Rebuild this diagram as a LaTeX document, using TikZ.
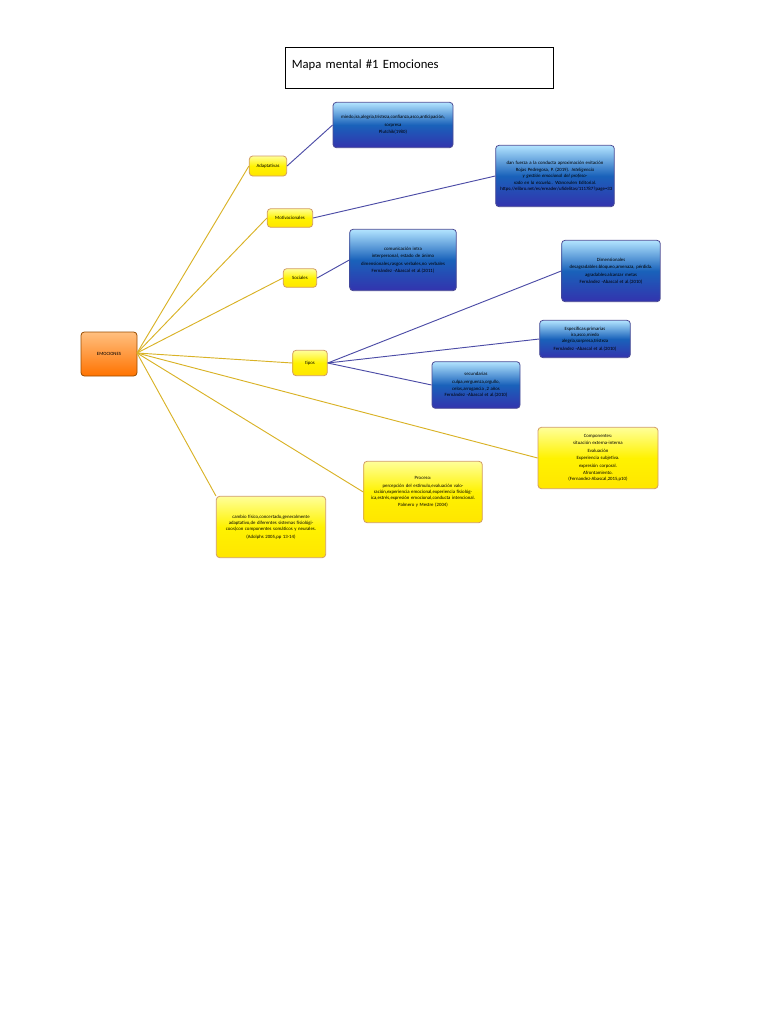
\documentclass[tikz,border=0pt]{standalone}
\usepackage{fontspec}
\setmainfont{Carlito}
\begin{document}
\begin{tikzpicture}[x=0.75pt,y=-0.75pt,
 base/.style={rounded corners=2.5pt,draw=#1,line width=0.6pt,align=center,inner sep=1pt,font=\fontsize{3.6}{4.6}\selectfont},
 bluebox/.style={base=blue!40!black!70,top color=blue!35!cyan!30!white,bottom color=blue!60!black!80,middle color=blue!55!cyan!70!black!90,text=black},
 ybox/.style={base=orange!70!black!60,top color=yellow!40,bottom color=yellow!80!orange,middle color=yellow!90!orange,text=black},
 obox/.style={base=orange!60!black,top color=orange!50,bottom color=orange!90!red,text=black},
 yl/.style={draw=brown!60!yellow,line width=0.7pt},
 bl/.style={draw=blue!50!black!70,line width=0.7pt}]
\useasboundingbox (0,0) rectangle (768,1024);
\node[draw=black,line width=0.5pt,minimum width=268*0.75pt,minimum height=41*0.75pt,text width=255*0.75pt,align=left,anchor=north west,inner sep=0pt,font=\fontsize{9.5}{11}\selectfont] (title) at (285,47) {\raisebox{6pt}{Mapa mental \#1 Emociones}};
\node[obox,minimum width=42pt,minimum height=33pt] (emo) at (109,354) {EMOCIONES};
\node[ybox,minimum width=28pt,minimum height=15pt] (ada) at (268,166) {Adaptativas};
\node[ybox,minimum width=34pt,minimum height=14pt] (mot) at (290,218) {Motivacionales};
\node[ybox,minimum width=25pt,minimum height=14pt] (soc) at (300,278) {Sociales};
\node[ybox,minimum width=26pt,minimum height=19pt] (tip) at (310,363) {tipos};
\node[bluebox,minimum width=90pt,minimum height=34pt,text width=88pt] (b1) at (393,125) {miedo,ira,alegria,tristeza,confianza,asco,anticipación,\\[1pt]sorpresa\\[1pt]Plutchik(1980)};
\node[bluebox,minimum width=89pt,minimum height=46pt,text width=82pt] (b2) at (555,176) {dan fuerza a la conducta aproximación evitación\\[1pt]Rojas Pedregosa, P. (2019). \textit{Inteligencia y gestión emocional del profesorado en la escuela.}. Wanceulen Editorial. https://elibro.net/es/ereader/ufidelitas/111787?page=33};
\node[bluebox,minimum width=80pt,minimum height=46pt,text width=76pt] (b3) at (403,260) {comunicación intra\\[1pt]interpersonal, estado de ánimo\\[1pt]dimensionales,rasgos verbales,no verbales\\[1pt]Fernández -Abascal et al.(2011)\\[5pt]};
\node[bluebox,minimum width=74pt,minimum height=46pt,text width=72pt] (b4) at (611,271) {Dimensionales\\[1pt]desagradables:bloqueo,amenaza, pérdida.\\[1pt]agradables:alcanzar metas\\[1pt]Fernández -Abascal et al.(2010)};
\node[bluebox,minimum width=67pt,minimum height=28pt,text width=66pt] (b5) at (585,339) {Especificas:primarias\\ira,asco,miedo\\alegria,sorpresa,tristeza\\[1pt]Fernández -Abascal et al.(2010)};
\node[bluebox,minimum width=66pt,minimum height=35pt,text width=64pt] (b6) at (476,385) {secundarias\\[1pt]culpa,verguenza,orgullo,\\[1pt]celos,arrogancia ,2 años\\Fernández -Abascal et al.(2010)};
\node[ybox,minimum width=90pt,minimum height=46pt,text width=85pt] (c1) at (598,458) {Componentes:\\[1pt]situación externa-interna\\[1pt]Evaluación\\[1pt]Experiencia subjetiva.\\[1pt]expresión corporal.\\[1pt]Afrontamiento.\\(Fernandez-Abascal,2015,p10)};
\node[ybox,minimum width=89pt,minimum height=46pt,text width=82pt] (c2) at (423,492) {Proceso:\\[1pt]percepción del estímulo,evaluación valoración,experiencia emocional,experiencia fisiológica,estrés,expresión emocional,conducta intencional.\\[1pt]Palmero y Mestre (2004)};
\node[ybox,minimum width=80pt,minimum height=46pt,text width=80pt] (c3) at (271,527) {cambio físico,concertado,generalmente adaptativo,de diferentes sistemas fisiológicoos(con componentes somáticos y neurales.\\[1pt](Adolphs 2005,pp 13-14)\\[6pt]};
\coordinate (eo) at (137,353);
\foreach \t in {ada,mot,soc,tip} \draw[yl] (eo) -- (\t.west);
\draw[yl] (eo) -- (c1.west);
\draw[yl] (eo) -- (c2.west);
\draw[yl] (eo) -- (c3.north west);
\draw[bl] (ada.east) -- (b1.west);
\draw[bl] (mot.east) -- (b2.west);
\draw[bl] (soc.east) -- (b3.west);
\draw[bl] (tip.east) -- (b4.west);
\draw[bl] (tip.east) -- (b5.west);
\draw[bl] (tip.east) -- (b6.west);
\end{tikzpicture}
\end{document}
